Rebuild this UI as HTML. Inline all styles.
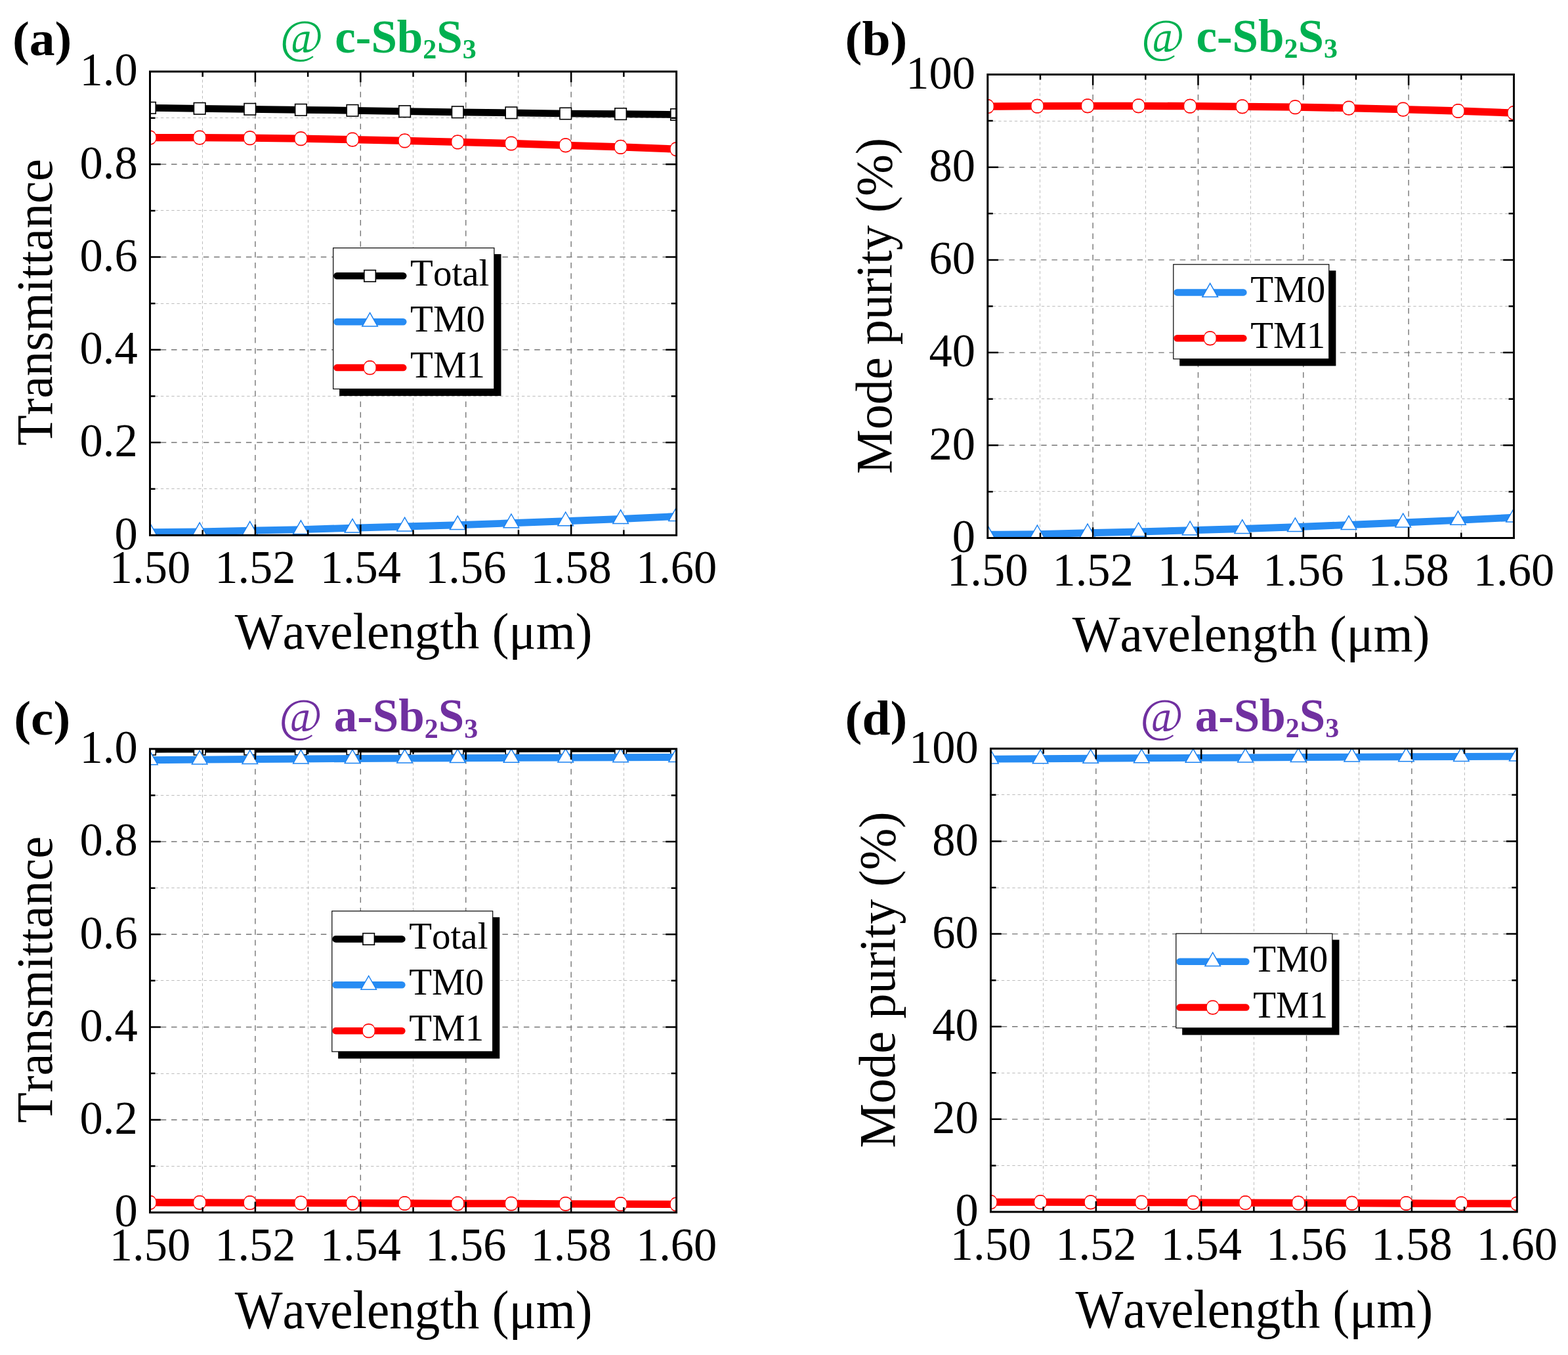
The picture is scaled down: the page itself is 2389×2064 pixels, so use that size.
<!DOCTYPE html><html><head><meta charset="utf-8"><title>Transmittance and mode purity</title>
<style>html,body{margin:0;padding:0;background:#fff;}svg{display:block;}text{font-family:"Liberation Serif","Times New Roman",serif;font-kerning:none;}</style></head><body>
<svg width="2389" height="2064" viewBox="0 0 2389 2064">
<rect width="100%" height="100%" fill="#fff"/>
<defs><g id="mc"><path d="M9.65,0.00 L9.58,1.89 L9.36,3.43 L9.01,4.81 L8.52,6.08 L7.89,7.21 L7.14,8.21 L6.27,9.08 L5.28,9.79 L4.19,10.36 L2.98,10.77 L1.64,11.02 L0.00,11.10 L-1.64,11.02 L-2.98,10.77 L-4.19,10.36 L-5.28,9.79 L-6.27,9.08 L-7.14,8.21 L-7.89,7.21 L-8.52,6.08 L-9.01,4.81 L-9.36,3.43 L-9.58,1.89 L-9.65,0.00 L-9.58,-1.89 L-9.36,-3.43 L-9.01,-4.81 L-8.52,-6.08 L-7.89,-7.21 L-7.14,-8.21 L-6.27,-9.08 L-5.28,-9.79 L-4.19,-10.36 L-2.98,-10.77 L-1.64,-11.02 L-0.00,-11.10 L1.64,-11.02 L2.98,-10.77 L4.19,-10.36 L5.28,-9.79 L6.27,-9.08 L7.14,-8.21 L7.89,-7.21 L8.52,-6.08 L9.01,-4.81 L9.36,-3.43 L9.58,-1.89Z" fill="#FF0000"/><path d="M8.85,0.00 L8.78,1.59 L8.59,2.89 L8.26,4.06 L7.81,5.12 L7.24,6.07 L6.55,6.92 L5.75,7.65 L4.84,8.25 L3.84,8.73 L2.73,9.07 L1.51,9.28 L0.00,9.35 L-1.51,9.28 L-2.73,9.07 L-3.84,8.73 L-4.84,8.25 L-5.75,7.65 L-6.55,6.92 L-7.24,6.07 L-7.81,5.12 L-8.26,4.06 L-8.59,2.89 L-8.78,1.59 L-8.85,0.00 L-8.78,-1.59 L-8.59,-2.89 L-8.26,-4.06 L-7.81,-5.12 L-7.24,-6.07 L-6.55,-6.92 L-5.75,-7.65 L-4.84,-8.25 L-3.84,-8.73 L-2.73,-9.07 L-1.51,-9.28 L-0.00,-9.35 L1.51,-9.28 L2.73,-9.07 L3.84,-8.73 L4.84,-8.25 L5.75,-7.65 L6.55,-6.92 L7.24,-6.07 L7.81,-5.12 L8.26,-4.06 L8.59,-2.89 L8.78,-1.59Z" fill="#fff"/></g></defs>
<g id="panel-a">
<clipPath id="clip-a"><rect x="228.5" y="109" width="802.1" height="706.3"/></clipPath>
<path d="M308.5 815.3V109M228.5 744.5H1030.6M469.5 815.3V109M228.5 603.5H1030.6M629.5 815.3V109M228.5 462.5H1030.6M789.5 815.3V109M228.5 320.5H1030.6M950.5 815.3V109M228.5 179.5H1030.6" stroke="#bcbcbc" stroke-width="1.0" stroke-dasharray="4.3 3.91" fill="none"/>
<path d="M388.92 815.3V109M228.5 674.04H1030.6M549.34 815.3V109M228.5 532.78H1030.6M709.76 815.3V109M228.5 391.52H1030.6M870.18 815.3V109M228.5 250.26H1030.6" stroke="#757575" stroke-width="1.4" stroke-dasharray="8.5 7.77" fill="none"/>
<g clip-path="url(#clip-a)">
<polyline points="228.5,164.3 304.17,165.3 380.8,166.3 458.4,167.3 537,168.3 616.61,169.7 697.26,170.8 778.96,171.8 861.74,173 945.61,173.6 1030.6,174.5" fill="none" stroke="#000" stroke-width="10.7" stroke-linejoin="round"/>
<rect x="219.75" y="155.55" width="17.5" height="17.5" fill="#fff" stroke="#000" stroke-width="1.6"/><rect x="295.42" y="156.55" width="17.5" height="17.5" fill="#fff" stroke="#000" stroke-width="1.6"/><rect x="372.05" y="157.55" width="17.5" height="17.5" fill="#fff" stroke="#000" stroke-width="1.6"/><rect x="449.65" y="158.55" width="17.5" height="17.5" fill="#fff" stroke="#000" stroke-width="1.6"/><rect x="528.25" y="159.55" width="17.5" height="17.5" fill="#fff" stroke="#000" stroke-width="1.6"/><rect x="607.86" y="160.95" width="17.5" height="17.5" fill="#fff" stroke="#000" stroke-width="1.6"/><rect x="688.51" y="162.05" width="17.5" height="17.5" fill="#fff" stroke="#000" stroke-width="1.6"/><rect x="770.21" y="163.05" width="17.5" height="17.5" fill="#fff" stroke="#000" stroke-width="1.6"/><rect x="852.99" y="164.25" width="17.5" height="17.5" fill="#fff" stroke="#000" stroke-width="1.6"/><rect x="936.86" y="164.85" width="17.5" height="17.5" fill="#fff" stroke="#000" stroke-width="1.6"/><rect x="1021.85" y="165.75" width="17.5" height="17.5" fill="#fff" stroke="#000" stroke-width="1.6"/>
<polyline points="228.5,810.6 304.17,809.9 380.8,808.1 458.4,806.6 537,804.2 616.61,802 697.26,799.7 778.96,796.8 861.74,793.8 945.61,790.5 1030.6,786.5" fill="none" stroke="#278CF3" stroke-width="10.9" stroke-linejoin="round"/>
<polygon points="228.5,796.8 240.25,817.5 216.75,817.5" fill="#fff" stroke="#1B82F2" stroke-width="1.5" stroke-linejoin="miter"/><polygon points="304.17,796.1 315.92,816.8 292.42,816.8" fill="#fff" stroke="#1B82F2" stroke-width="1.5" stroke-linejoin="miter"/><polygon points="380.8,794.3 392.55,815 369.05,815" fill="#fff" stroke="#1B82F2" stroke-width="1.5" stroke-linejoin="miter"/><polygon points="458.4,792.8 470.15,813.5 446.65,813.5" fill="#fff" stroke="#1B82F2" stroke-width="1.5" stroke-linejoin="miter"/><polygon points="537,790.4 548.75,811.1 525.25,811.1" fill="#fff" stroke="#1B82F2" stroke-width="1.5" stroke-linejoin="miter"/><polygon points="616.61,788.2 628.36,808.9 604.86,808.9" fill="#fff" stroke="#1B82F2" stroke-width="1.5" stroke-linejoin="miter"/><polygon points="697.26,785.9 709.01,806.6 685.51,806.6" fill="#fff" stroke="#1B82F2" stroke-width="1.5" stroke-linejoin="miter"/><polygon points="778.96,783 790.71,803.7 767.21,803.7" fill="#fff" stroke="#1B82F2" stroke-width="1.5" stroke-linejoin="miter"/><polygon points="861.74,780 873.49,800.7 849.99,800.7" fill="#fff" stroke="#1B82F2" stroke-width="1.5" stroke-linejoin="miter"/><polygon points="945.61,776.7 957.36,797.4 933.86,797.4" fill="#fff" stroke="#1B82F2" stroke-width="1.5" stroke-linejoin="miter"/><polygon points="1030.6,772.7 1042.35,793.4 1018.85,793.4" fill="#fff" stroke="#1B82F2" stroke-width="1.5" stroke-linejoin="miter"/>
<polyline points="228.5,209.6 304.17,209.6 380.8,210.2 458.4,211.2 537,212.6 616.61,214.4 697.26,216.4 778.96,218.5 861.74,221.3 945.61,223.9 1030.6,227.2" fill="none" stroke="#FF0000" stroke-width="11.3" stroke-linejoin="round"/>
<use href="#mc" x="228.5" y="209.6"/><use href="#mc" x="304.17" y="209.6"/><use href="#mc" x="380.8" y="210.2"/><use href="#mc" x="458.4" y="211.2"/><use href="#mc" x="537" y="212.6"/><use href="#mc" x="616.61" y="214.4"/><use href="#mc" x="697.26" y="216.4"/><use href="#mc" x="778.96" y="218.5"/><use href="#mc" x="861.74" y="221.3"/><use href="#mc" x="945.61" y="223.9"/><use href="#mc" x="1030.6" y="227.2"/>
</g>
<path d="M308.71 815.3v-8M308.71 109v8M228.5 744.67h8M1030.6 744.67h-8M388.92 815.3v-16.3M388.92 109v16.3M228.5 674.04h16.3M1030.6 674.04h-16.3M469.13 815.3v-8M469.13 109v8M228.5 603.41h8M1030.6 603.41h-8M549.34 815.3v-16.3M549.34 109v16.3M228.5 532.78h16.3M1030.6 532.78h-16.3M629.55 815.3v-8M629.55 109v8M228.5 462.15h8M1030.6 462.15h-8M709.76 815.3v-16.3M709.76 109v16.3M228.5 391.52h16.3M1030.6 391.52h-16.3M789.97 815.3v-8M789.97 109v8M228.5 320.89h8M1030.6 320.89h-8M870.18 815.3v-16.3M870.18 109v16.3M228.5 250.26h16.3M1030.6 250.26h-16.3M950.39 815.3v-8M950.39 109v8M228.5 179.63h8M1030.6 179.63h-8" stroke="#000" stroke-width="2.5" fill="none"/>
<rect x="228.5" y="109" width="802.1" height="706.3" fill="none" stroke="#000" stroke-width="3.0"/>
<text transform="translate(209.7,836.6) scale(1,1.024)" font-size="70.5" text-anchor="end">0</text>
<text transform="translate(209.7,695.34) scale(1,1.024)" font-size="70.5" text-anchor="end">0.2</text>
<text transform="translate(209.7,554.08) scale(1,1.024)" font-size="70.5" text-anchor="end">0.4</text>
<text transform="translate(209.7,412.82) scale(1,1.024)" font-size="70.5" text-anchor="end">0.6</text>
<text transform="translate(209.7,271.56) scale(1,1.024)" font-size="70.5" text-anchor="end">0.8</text>
<text transform="translate(209.7,130.3) scale(1,1.024)" font-size="70.5" text-anchor="end">1.0</text>
<text transform="translate(228.5,887.9) scale(1,1.024)" font-size="70.5" text-anchor="middle">1.50</text>
<text transform="translate(388.92,887.9) scale(1,1.024)" font-size="70.5" text-anchor="middle">1.52</text>
<text transform="translate(549.34,887.9) scale(1,1.024)" font-size="70.5" text-anchor="middle">1.54</text>
<text transform="translate(709.76,887.9) scale(1,1.024)" font-size="70.5" text-anchor="middle">1.56</text>
<text transform="translate(870.18,887.9) scale(1,1.024)" font-size="70.5" text-anchor="middle">1.58</text>
<text transform="translate(1030.6,887.9) scale(1,1.024)" font-size="70.5" text-anchor="middle">1.60</text>
<text id="yt-a" transform="translate(79.4,460.55) rotate(-90) scale(0.973,1)" font-size="78.5" text-anchor="middle">Transmittance</text>
<text id="xt-a" transform="translate(630.05,987.6) scale(0.983,1)" font-size="78.5" text-anchor="middle">Wavelength (μm)</text>
<rect x="517.1" y="387.1" width="246.4" height="216" fill="#000"/>
<rect x="507.7" y="377.7" width="245.2" height="214.8" fill="#fff" stroke="#000" stroke-width="1.2"/>
<line x1="513.4" y1="420.3" x2="614.3" y2="420.3" stroke="#000" stroke-width="10.5" stroke-linecap="round"/>
<rect x="554.85" y="411.55" width="17.5" height="17.5" fill="#fff" stroke="#000" stroke-width="1.6"/>
<text x="625.1" y="435.3" font-size="57.0">Total</text>
<line x1="513.4" y1="490.2" x2="614.3" y2="490.2" stroke="#278CF3" stroke-width="10.5" stroke-linecap="round"/>
<polygon points="563.6,476.4 575.35,497.1 551.85,497.1" fill="#fff" stroke="#1B82F2" stroke-width="1.5" stroke-linejoin="miter"/>
<text x="625.1" y="505.2" font-size="57.0">TM0</text>
<line x1="513.4" y1="560.1" x2="614.3" y2="560.1" stroke="#FF0000" stroke-width="10.5" stroke-linecap="round"/>
<use href="#mc" x="563.6" y="560.1"/>
<text x="625.1" y="575.1" font-size="57.0">TM1</text>
<text transform="translate(18.89,66.45) scale(1,0.955)" y="18.66" font-size="77.6" font-weight="bold">(a)</text>
<text x="427.09" y="79.5" font-size="71.0" font-weight="bold" fill="#00B050"><tspan font-weight="normal">@</tspan> c-Sb<tspan font-size="42.0" dy="9.2">2</tspan><tspan dy="-9.2">S</tspan><tspan font-size="42.0" dy="9.2">3</tspan></text>
</g>
<g id="panel-b">
<clipPath id="clip-b"><rect x="1504.8" y="113.5" width="801.7" height="706"/></clipPath>
<path d="M1584.5 819.5V113.5M1504.8 748.5H2306.5M1745.5 819.5V113.5M1504.8 607.5H2306.5M1905.5 819.5V113.5M1504.8 466.5H2306.5M2065.5 819.5V113.5M1504.8 325.5H2306.5M2226.5 819.5V113.5M1504.8 184.5H2306.5" stroke="#bcbcbc" stroke-width="1.0" stroke-dasharray="4.3 3.91" fill="none"/>
<path d="M1665.14 819.5V113.5M1504.8 678.3H2306.5M1825.48 819.5V113.5M1504.8 537.1H2306.5M1985.82 819.5V113.5M1504.8 395.9H2306.5M2146.16 819.5V113.5M1504.8 254.7H2306.5" stroke="#757575" stroke-width="1.4" stroke-dasharray="8.5 7.77" fill="none"/>
<g clip-path="url(#clip-b)">
<polyline points="1504.8,814.2 1580.43,813.8 1657.02,811.8 1734.59,810 1813.15,807.8 1892.72,805.5 1973.33,802.7 2054.99,799.5 2137.72,796 2221.55,792.4 2306.5,788.2" fill="none" stroke="#278CF3" stroke-width="10.9" stroke-linejoin="round"/>
<polygon points="1504.8,800.4 1516.55,821.1 1493.05,821.1" fill="#fff" stroke="#1B82F2" stroke-width="1.5" stroke-linejoin="miter"/><polygon points="1580.43,800 1592.18,820.7 1568.68,820.7" fill="#fff" stroke="#1B82F2" stroke-width="1.5" stroke-linejoin="miter"/><polygon points="1657.02,798 1668.77,818.7 1645.27,818.7" fill="#fff" stroke="#1B82F2" stroke-width="1.5" stroke-linejoin="miter"/><polygon points="1734.59,796.2 1746.34,816.9 1722.84,816.9" fill="#fff" stroke="#1B82F2" stroke-width="1.5" stroke-linejoin="miter"/><polygon points="1813.15,794 1824.9,814.7 1801.4,814.7" fill="#fff" stroke="#1B82F2" stroke-width="1.5" stroke-linejoin="miter"/><polygon points="1892.72,791.7 1904.47,812.4 1880.97,812.4" fill="#fff" stroke="#1B82F2" stroke-width="1.5" stroke-linejoin="miter"/><polygon points="1973.33,788.9 1985.08,809.6 1961.58,809.6" fill="#fff" stroke="#1B82F2" stroke-width="1.5" stroke-linejoin="miter"/><polygon points="2054.99,785.7 2066.74,806.4 2043.24,806.4" fill="#fff" stroke="#1B82F2" stroke-width="1.5" stroke-linejoin="miter"/><polygon points="2137.72,782.2 2149.47,802.9 2125.97,802.9" fill="#fff" stroke="#1B82F2" stroke-width="1.5" stroke-linejoin="miter"/><polygon points="2221.55,778.6 2233.3,799.3 2209.8,799.3" fill="#fff" stroke="#1B82F2" stroke-width="1.5" stroke-linejoin="miter"/><polygon points="2306.5,774.4 2318.25,795.1 2294.75,795.1" fill="#fff" stroke="#1B82F2" stroke-width="1.5" stroke-linejoin="miter"/>
<polyline points="1504.8,162.1 1580.43,161.7 1657.02,161.3 1734.59,161.3 1813.15,161.7 1892.72,162.3 1973.33,163.2 2054.99,164.6 2137.72,166.6 2221.55,169 2306.5,172.1" fill="none" stroke="#FF0000" stroke-width="11.3" stroke-linejoin="round"/>
<use href="#mc" x="1504.8" y="162.1"/><use href="#mc" x="1580.43" y="161.7"/><use href="#mc" x="1657.02" y="161.3"/><use href="#mc" x="1734.59" y="161.3"/><use href="#mc" x="1813.15" y="161.7"/><use href="#mc" x="1892.72" y="162.3"/><use href="#mc" x="1973.33" y="163.2"/><use href="#mc" x="2054.99" y="164.6"/><use href="#mc" x="2137.72" y="166.6"/><use href="#mc" x="2221.55" y="169"/><use href="#mc" x="2306.5" y="172.1"/>
</g>
<path d="M1584.97 819.5v-8M1584.97 113.5v8M1504.8 748.9h8M2306.5 748.9h-8M1665.14 819.5v-16.3M1665.14 113.5v16.3M1504.8 678.3h16.3M2306.5 678.3h-16.3M1745.31 819.5v-8M1745.31 113.5v8M1504.8 607.7h8M2306.5 607.7h-8M1825.48 819.5v-16.3M1825.48 113.5v16.3M1504.8 537.1h16.3M2306.5 537.1h-16.3M1905.65 819.5v-8M1905.65 113.5v8M1504.8 466.5h8M2306.5 466.5h-8M1985.82 819.5v-16.3M1985.82 113.5v16.3M1504.8 395.9h16.3M2306.5 395.9h-16.3M2065.99 819.5v-8M2065.99 113.5v8M1504.8 325.3h8M2306.5 325.3h-8M2146.16 819.5v-16.3M2146.16 113.5v16.3M1504.8 254.7h16.3M2306.5 254.7h-16.3M2226.33 819.5v-8M2226.33 113.5v8M1504.8 184.1h8M2306.5 184.1h-8" stroke="#000" stroke-width="2.5" fill="none"/>
<rect x="1504.8" y="113.5" width="801.7" height="706" fill="none" stroke="#000" stroke-width="3.0"/>
<text transform="translate(1486,840.8) scale(1,1.024)" font-size="70.5" text-anchor="end">0</text>
<text transform="translate(1486,699.6) scale(1,1.024)" font-size="70.5" text-anchor="end">20</text>
<text transform="translate(1486,558.4) scale(1,1.024)" font-size="70.5" text-anchor="end">40</text>
<text transform="translate(1486,417.2) scale(1,1.024)" font-size="70.5" text-anchor="end">60</text>
<text transform="translate(1486,276) scale(1,1.024)" font-size="70.5" text-anchor="end">80</text>
<text transform="translate(1486,134.8) scale(1,1.024)" font-size="70.5" text-anchor="end">100</text>
<text transform="translate(1504.8,892.1) scale(1,1.024)" font-size="70.5" text-anchor="middle">1.50</text>
<text transform="translate(1665.14,892.1) scale(1,1.024)" font-size="70.5" text-anchor="middle">1.52</text>
<text transform="translate(1825.48,892.1) scale(1,1.024)" font-size="70.5" text-anchor="middle">1.54</text>
<text transform="translate(1985.82,892.1) scale(1,1.024)" font-size="70.5" text-anchor="middle">1.56</text>
<text transform="translate(2146.16,892.1) scale(1,1.024)" font-size="70.5" text-anchor="middle">1.58</text>
<text transform="translate(2306.5,892.1) scale(1,1.024)" font-size="70.5" text-anchor="middle">1.60</text>
<text id="yt-b" transform="translate(1357.5,465.9) rotate(-90) scale(0.971,1)" font-size="78.5" text-anchor="middle">Mode purity (%)</text>
<text id="xt-b" transform="translate(1906.15,991.8) scale(0.983,1)" font-size="78.5" text-anchor="middle">Wavelength (μm)</text>
<rect x="1797.2" y="412.2" width="238.2" height="145.2" fill="#000"/>
<rect x="1787.8" y="402.8" width="237" height="144" fill="#fff" stroke="#000" stroke-width="1.2"/>
<line x1="1793.5" y1="445.4" x2="1894.4" y2="445.4" stroke="#278CF3" stroke-width="10.5" stroke-linecap="round"/>
<polygon points="1843.7,431.6 1855.45,452.3 1831.95,452.3" fill="#fff" stroke="#1B82F2" stroke-width="1.5" stroke-linejoin="miter"/>
<text x="1905.2" y="460.4" font-size="57.0">TM0</text>
<line x1="1793.5" y1="515.3" x2="1894.4" y2="515.3" stroke="#FF0000" stroke-width="10.5" stroke-linecap="round"/>
<use href="#mc" x="1843.7" y="515.3"/>
<text x="1905.2" y="530.3" font-size="57.0">TM1</text>
<text transform="translate(1287.59,66.55) scale(1,0.955)" y="18.66" font-size="77.6" font-weight="bold">(b)</text>
<text x="1739.29" y="79.1" font-size="71.0" font-weight="bold" fill="#00B050"><tspan font-weight="normal">@</tspan> c-Sb<tspan font-size="42.0" dy="9.2">2</tspan><tspan dy="-9.2">S</tspan><tspan font-size="42.0" dy="9.2">3</tspan></text>
</g>
<g id="panel-c">
<clipPath id="clip-c"><rect x="228.5" y="1140.8" width="802.1" height="706.1"/></clipPath>
<path d="M308.5 1846.9V1140.8M228.5 1776.5H1030.6M469.5 1846.9V1140.8M228.5 1635.5H1030.6M629.5 1846.9V1140.8M228.5 1493.5H1030.6M789.5 1846.9V1140.8M228.5 1352.5H1030.6M950.5 1846.9V1140.8M228.5 1211.5H1030.6" stroke="#bcbcbc" stroke-width="1.0" stroke-dasharray="4.3 3.91" fill="none"/>
<path d="M388.92 1846.9V1140.8M228.5 1705.68H1030.6M549.34 1846.9V1140.8M228.5 1564.46H1030.6M709.76 1846.9V1140.8M228.5 1423.24H1030.6M870.18 1846.9V1140.8M228.5 1282.02H1030.6" stroke="#757575" stroke-width="1.4" stroke-dasharray="8.5 7.77" fill="none"/>
<g clip-path="url(#clip-c)">
<polyline points="228.5,1141.3 304.17,1141.2 380.8,1141.1 458.4,1141 537,1140.9 616.61,1140.8 697.26,1140.7 778.96,1140.6 861.74,1140.5 945.61,1140.4 1030.6,1140.3" fill="none" stroke="#000" stroke-width="10.7" stroke-linejoin="round"/>
<rect x="219.75" y="1132.55" width="17.5" height="17.5" fill="#fff" stroke="#000" stroke-width="1.6"/><rect x="295.42" y="1132.45" width="17.5" height="17.5" fill="#fff" stroke="#000" stroke-width="1.6"/><rect x="372.05" y="1132.35" width="17.5" height="17.5" fill="#fff" stroke="#000" stroke-width="1.6"/><rect x="449.65" y="1132.25" width="17.5" height="17.5" fill="#fff" stroke="#000" stroke-width="1.6"/><rect x="528.25" y="1132.15" width="17.5" height="17.5" fill="#fff" stroke="#000" stroke-width="1.6"/><rect x="607.86" y="1132.05" width="17.5" height="17.5" fill="#fff" stroke="#000" stroke-width="1.6"/><rect x="688.51" y="1131.95" width="17.5" height="17.5" fill="#fff" stroke="#000" stroke-width="1.6"/><rect x="770.21" y="1131.85" width="17.5" height="17.5" fill="#fff" stroke="#000" stroke-width="1.6"/><rect x="852.99" y="1131.75" width="17.5" height="17.5" fill="#fff" stroke="#000" stroke-width="1.6"/><rect x="936.86" y="1131.65" width="17.5" height="17.5" fill="#fff" stroke="#000" stroke-width="1.6"/><rect x="1021.85" y="1131.55" width="17.5" height="17.5" fill="#fff" stroke="#000" stroke-width="1.6"/>
<polyline points="228.5,1157.8 304.17,1157.1 380.8,1156.5 458.4,1156 537,1155.5 616.61,1155.1 697.26,1154.7 778.96,1154.4 861.74,1154.1 945.61,1153.8 1030.6,1153.5" fill="none" stroke="#278CF3" stroke-width="10.9" stroke-linejoin="round"/>
<polygon points="228.5,1144 240.25,1164.7 216.75,1164.7" fill="#fff" stroke="#1B82F2" stroke-width="1.5" stroke-linejoin="miter"/><polygon points="304.17,1143.3 315.92,1164 292.42,1164" fill="#fff" stroke="#1B82F2" stroke-width="1.5" stroke-linejoin="miter"/><polygon points="380.8,1142.7 392.55,1163.4 369.05,1163.4" fill="#fff" stroke="#1B82F2" stroke-width="1.5" stroke-linejoin="miter"/><polygon points="458.4,1142.2 470.15,1162.9 446.65,1162.9" fill="#fff" stroke="#1B82F2" stroke-width="1.5" stroke-linejoin="miter"/><polygon points="537,1141.7 548.75,1162.4 525.25,1162.4" fill="#fff" stroke="#1B82F2" stroke-width="1.5" stroke-linejoin="miter"/><polygon points="616.61,1141.3 628.36,1162 604.86,1162" fill="#fff" stroke="#1B82F2" stroke-width="1.5" stroke-linejoin="miter"/><polygon points="697.26,1140.9 709.01,1161.6 685.51,1161.6" fill="#fff" stroke="#1B82F2" stroke-width="1.5" stroke-linejoin="miter"/><polygon points="778.96,1140.6 790.71,1161.3 767.21,1161.3" fill="#fff" stroke="#1B82F2" stroke-width="1.5" stroke-linejoin="miter"/><polygon points="861.74,1140.3 873.49,1161 849.99,1161" fill="#fff" stroke="#1B82F2" stroke-width="1.5" stroke-linejoin="miter"/><polygon points="945.61,1140 957.36,1160.7 933.86,1160.7" fill="#fff" stroke="#1B82F2" stroke-width="1.5" stroke-linejoin="miter"/><polygon points="1030.6,1139.7 1042.35,1160.4 1018.85,1160.4" fill="#fff" stroke="#1B82F2" stroke-width="1.5" stroke-linejoin="miter"/>
<polyline points="228.5,1831.7 304.17,1831.8 380.8,1832.1 458.4,1832.4 537,1832.7 616.61,1833 697.26,1833.3 778.96,1833.5 861.74,1833.8 945.61,1834.1 1030.6,1834.4" fill="none" stroke="#FF0000" stroke-width="11.3" stroke-linejoin="round"/>
<use href="#mc" x="228.5" y="1831.7"/><use href="#mc" x="304.17" y="1831.8"/><use href="#mc" x="380.8" y="1832.1"/><use href="#mc" x="458.4" y="1832.4"/><use href="#mc" x="537" y="1832.7"/><use href="#mc" x="616.61" y="1833"/><use href="#mc" x="697.26" y="1833.3"/><use href="#mc" x="778.96" y="1833.5"/><use href="#mc" x="861.74" y="1833.8"/><use href="#mc" x="945.61" y="1834.1"/><use href="#mc" x="1030.6" y="1834.4"/>
</g>
<path d="M308.71 1846.9v-8M308.71 1140.8v8M228.5 1776.29h8M1030.6 1776.29h-8M388.92 1846.9v-16.3M388.92 1140.8v16.3M228.5 1705.68h16.3M1030.6 1705.68h-16.3M469.13 1846.9v-8M469.13 1140.8v8M228.5 1635.07h8M1030.6 1635.07h-8M549.34 1846.9v-16.3M549.34 1140.8v16.3M228.5 1564.46h16.3M1030.6 1564.46h-16.3M629.55 1846.9v-8M629.55 1140.8v8M228.5 1493.85h8M1030.6 1493.85h-8M709.76 1846.9v-16.3M709.76 1140.8v16.3M228.5 1423.24h16.3M1030.6 1423.24h-16.3M789.97 1846.9v-8M789.97 1140.8v8M228.5 1352.63h8M1030.6 1352.63h-8M870.18 1846.9v-16.3M870.18 1140.8v16.3M228.5 1282.02h16.3M1030.6 1282.02h-16.3M950.39 1846.9v-8M950.39 1140.8v8M228.5 1211.41h8M1030.6 1211.41h-8" stroke="#000" stroke-width="2.5" fill="none"/>
<rect x="228.5" y="1140.8" width="802.1" height="706.1" fill="none" stroke="#000" stroke-width="3.0"/>
<text transform="translate(209.7,1868.2) scale(1,1.024)" font-size="70.5" text-anchor="end">0</text>
<text transform="translate(209.7,1726.98) scale(1,1.024)" font-size="70.5" text-anchor="end">0.2</text>
<text transform="translate(209.7,1585.76) scale(1,1.024)" font-size="70.5" text-anchor="end">0.4</text>
<text transform="translate(209.7,1444.54) scale(1,1.024)" font-size="70.5" text-anchor="end">0.6</text>
<text transform="translate(209.7,1303.32) scale(1,1.024)" font-size="70.5" text-anchor="end">0.8</text>
<text transform="translate(209.7,1162.1) scale(1,1.024)" font-size="70.5" text-anchor="end">1.0</text>
<text transform="translate(228.5,1919.5) scale(1,1.024)" font-size="70.5" text-anchor="middle">1.50</text>
<text transform="translate(388.92,1919.5) scale(1,1.024)" font-size="70.5" text-anchor="middle">1.52</text>
<text transform="translate(549.34,1919.5) scale(1,1.024)" font-size="70.5" text-anchor="middle">1.54</text>
<text transform="translate(709.76,1919.5) scale(1,1.024)" font-size="70.5" text-anchor="middle">1.56</text>
<text transform="translate(870.18,1919.5) scale(1,1.024)" font-size="70.5" text-anchor="middle">1.58</text>
<text transform="translate(1030.6,1919.5) scale(1,1.024)" font-size="70.5" text-anchor="middle">1.60</text>
<text id="yt-c" transform="translate(79.4,1492.25) rotate(-90) scale(0.973,1)" font-size="78.5" text-anchor="middle">Transmittance</text>
<text id="xt-c" transform="translate(630.05,2022.5) scale(0.983,1.06)" font-size="78.5" text-anchor="middle">Wavelength (μm)</text>
<rect x="515.2" y="1397.2" width="246.1" height="215.3" fill="#000"/>
<rect x="505.8" y="1387.8" width="244.9" height="214.1" fill="#fff" stroke="#000" stroke-width="1.2"/>
<line x1="511.5" y1="1430.4" x2="612.4" y2="1430.4" stroke="#000" stroke-width="10.5" stroke-linecap="round"/>
<rect x="552.95" y="1421.65" width="17.5" height="17.5" fill="#fff" stroke="#000" stroke-width="1.6"/>
<text x="623.2" y="1445.4" font-size="57.0">Total</text>
<line x1="511.5" y1="1500.3" x2="612.4" y2="1500.3" stroke="#278CF3" stroke-width="10.5" stroke-linecap="round"/>
<polygon points="561.7,1486.5 573.45,1507.2 549.95,1507.2" fill="#fff" stroke="#1B82F2" stroke-width="1.5" stroke-linejoin="miter"/>
<text x="623.2" y="1515.3" font-size="57.0">TM0</text>
<line x1="511.5" y1="1570.2" x2="612.4" y2="1570.2" stroke="#FF0000" stroke-width="10.5" stroke-linecap="round"/>
<use href="#mc" x="561.7" y="1570.2"/>
<text x="623.2" y="1585.2" font-size="57.0">TM1</text>
<text transform="translate(21.19,1101.4) scale(1,0.955)" y="18.66" font-size="77.6" font-weight="bold">(c)</text>
<text x="425.59" y="1114.4" font-size="71.0" font-weight="bold" fill="#7030A0"><tspan font-weight="normal">@</tspan> a-Sb<tspan font-size="42.0" dy="9.2">2</tspan><tspan dy="-9.2">S</tspan><tspan font-size="42.0" dy="9.2">3</tspan></text>
</g>
<g id="panel-d">
<clipPath id="clip-d"><rect x="1509.5" y="1140.3" width="801.8" height="705.7"/></clipPath>
<path d="M1589.5 1846V1140.3M1509.5 1775.5H2311.3M1750.5 1846V1140.3M1509.5 1634.5H2311.3M1910.5 1846V1140.3M1509.5 1493.5H2311.3M2070.5 1846V1140.3M1509.5 1352.5H2311.3M2231.5 1846V1140.3M1509.5 1210.5H2311.3" stroke="#bcbcbc" stroke-width="1.0" stroke-dasharray="4.3 3.91" fill="none"/>
<path d="M1669.86 1846V1140.3M1509.5 1704.86H2311.3M1830.22 1846V1140.3M1509.5 1563.72H2311.3M1990.58 1846V1140.3M1509.5 1422.58H2311.3M2150.94 1846V1140.3M1509.5 1281.44H2311.3" stroke="#757575" stroke-width="1.4" stroke-dasharray="8.5 7.77" fill="none"/>
<g clip-path="url(#clip-d)">
<polyline points="1509.5,1156.2 1585.14,1155.8 1661.74,1155.3 1739.32,1154.8 1817.88,1154.4 1897.47,1154 1978.08,1153.5 2059.75,1153.1 2142.5,1152.8 2226.34,1152.5 2311.3,1152.2" fill="none" stroke="#278CF3" stroke-width="10.9" stroke-linejoin="round"/>
<polygon points="1509.5,1142.4 1521.25,1163.1 1497.75,1163.1" fill="#fff" stroke="#1B82F2" stroke-width="1.5" stroke-linejoin="miter"/><polygon points="1585.14,1142 1596.89,1162.7 1573.39,1162.7" fill="#fff" stroke="#1B82F2" stroke-width="1.5" stroke-linejoin="miter"/><polygon points="1661.74,1141.5 1673.49,1162.2 1649.99,1162.2" fill="#fff" stroke="#1B82F2" stroke-width="1.5" stroke-linejoin="miter"/><polygon points="1739.32,1141 1751.07,1161.7 1727.57,1161.7" fill="#fff" stroke="#1B82F2" stroke-width="1.5" stroke-linejoin="miter"/><polygon points="1817.88,1140.6 1829.63,1161.3 1806.13,1161.3" fill="#fff" stroke="#1B82F2" stroke-width="1.5" stroke-linejoin="miter"/><polygon points="1897.47,1140.2 1909.22,1160.9 1885.72,1160.9" fill="#fff" stroke="#1B82F2" stroke-width="1.5" stroke-linejoin="miter"/><polygon points="1978.08,1139.7 1989.83,1160.4 1966.33,1160.4" fill="#fff" stroke="#1B82F2" stroke-width="1.5" stroke-linejoin="miter"/><polygon points="2059.75,1139.3 2071.5,1160 2048,1160" fill="#fff" stroke="#1B82F2" stroke-width="1.5" stroke-linejoin="miter"/><polygon points="2142.5,1139 2154.25,1159.7 2130.75,1159.7" fill="#fff" stroke="#1B82F2" stroke-width="1.5" stroke-linejoin="miter"/><polygon points="2226.34,1138.7 2238.09,1159.4 2214.59,1159.4" fill="#fff" stroke="#1B82F2" stroke-width="1.5" stroke-linejoin="miter"/><polygon points="2311.3,1138.4 2323.05,1159.1 2299.55,1159.1" fill="#fff" stroke="#1B82F2" stroke-width="1.5" stroke-linejoin="miter"/>
<polyline points="1509.5,1831.1 1585.14,1831.1 1661.74,1831.3 1739.32,1831.6 1817.88,1831.8 1897.47,1832.1 1978.08,1832.4 2059.75,1832.7 2142.5,1833 2226.34,1833.3 2311.3,1833.5" fill="none" stroke="#FF0000" stroke-width="11.3" stroke-linejoin="round"/>
<use href="#mc" x="1509.5" y="1831.1"/><use href="#mc" x="1585.14" y="1831.1"/><use href="#mc" x="1661.74" y="1831.3"/><use href="#mc" x="1739.32" y="1831.6"/><use href="#mc" x="1817.88" y="1831.8"/><use href="#mc" x="1897.47" y="1832.1"/><use href="#mc" x="1978.08" y="1832.4"/><use href="#mc" x="2059.75" y="1832.7"/><use href="#mc" x="2142.5" y="1833"/><use href="#mc" x="2226.34" y="1833.3"/><use href="#mc" x="2311.3" y="1833.5"/>
</g>
<path d="M1589.68 1846v-8M1589.68 1140.3v8M1509.5 1775.43h8M2311.3 1775.43h-8M1669.86 1846v-16.3M1669.86 1140.3v16.3M1509.5 1704.86h16.3M2311.3 1704.86h-16.3M1750.04 1846v-8M1750.04 1140.3v8M1509.5 1634.29h8M2311.3 1634.29h-8M1830.22 1846v-16.3M1830.22 1140.3v16.3M1509.5 1563.72h16.3M2311.3 1563.72h-16.3M1910.4 1846v-8M1910.4 1140.3v8M1509.5 1493.15h8M2311.3 1493.15h-8M1990.58 1846v-16.3M1990.58 1140.3v16.3M1509.5 1422.58h16.3M2311.3 1422.58h-16.3M2070.76 1846v-8M2070.76 1140.3v8M1509.5 1352.01h8M2311.3 1352.01h-8M2150.94 1846v-16.3M2150.94 1140.3v16.3M1509.5 1281.44h16.3M2311.3 1281.44h-16.3M2231.12 1846v-8M2231.12 1140.3v8M1509.5 1210.87h8M2311.3 1210.87h-8" stroke="#000" stroke-width="2.5" fill="none"/>
<rect x="1509.5" y="1140.3" width="801.8" height="705.7" fill="none" stroke="#000" stroke-width="3.0"/>
<text transform="translate(1490.7,1867.3) scale(1,1.024)" font-size="70.5" text-anchor="end">0</text>
<text transform="translate(1490.7,1726.16) scale(1,1.024)" font-size="70.5" text-anchor="end">20</text>
<text transform="translate(1490.7,1585.02) scale(1,1.024)" font-size="70.5" text-anchor="end">40</text>
<text transform="translate(1490.7,1443.88) scale(1,1.024)" font-size="70.5" text-anchor="end">60</text>
<text transform="translate(1490.7,1302.74) scale(1,1.024)" font-size="70.5" text-anchor="end">80</text>
<text transform="translate(1490.7,1161.6) scale(1,1.024)" font-size="70.5" text-anchor="end">100</text>
<text transform="translate(1509.5,1918.6) scale(1,1.024)" font-size="70.5" text-anchor="middle">1.50</text>
<text transform="translate(1669.86,1918.6) scale(1,1.024)" font-size="70.5" text-anchor="middle">1.52</text>
<text transform="translate(1830.22,1918.6) scale(1,1.024)" font-size="70.5" text-anchor="middle">1.54</text>
<text transform="translate(1990.58,1918.6) scale(1,1.024)" font-size="70.5" text-anchor="middle">1.56</text>
<text transform="translate(2150.94,1918.6) scale(1,1.024)" font-size="70.5" text-anchor="middle">1.58</text>
<text transform="translate(2311.3,1918.6) scale(1,1.024)" font-size="70.5" text-anchor="middle">1.60</text>
<text id="yt-d" transform="translate(1363.1,1492.55) rotate(-90) scale(0.971,1)" font-size="78.5" text-anchor="middle">Mode purity (%)</text>
<text id="xt-d" transform="translate(1910.9,2021.6) scale(0.983,1.06)" font-size="78.5" text-anchor="middle">Wavelength (μm)</text>
<rect x="1801.2" y="1431.5" width="239.3" height="145" fill="#000"/>
<rect x="1791.8" y="1422.1" width="238.1" height="143.8" fill="#fff" stroke="#000" stroke-width="1.2"/>
<line x1="1797.5" y1="1464.7" x2="1898.4" y2="1464.7" stroke="#278CF3" stroke-width="10.5" stroke-linecap="round"/>
<polygon points="1847.7,1450.9 1859.45,1471.6 1835.95,1471.6" fill="#fff" stroke="#1B82F2" stroke-width="1.5" stroke-linejoin="miter"/>
<text x="1909.2" y="1479.7" font-size="57.0">TM0</text>
<line x1="1797.5" y1="1534.6" x2="1898.4" y2="1534.6" stroke="#FF0000" stroke-width="10.5" stroke-linecap="round"/>
<use href="#mc" x="1847.7" y="1534.6"/>
<text x="1909.2" y="1549.6" font-size="57.0">TM1</text>
<text transform="translate(1287.59,1101.4) scale(1,0.955)" y="18.66" font-size="77.6" font-weight="bold">(d)</text>
<text x="1737.59" y="1114.1" font-size="71.0" font-weight="bold" fill="#7030A0"><tspan font-weight="normal">@</tspan> a-Sb<tspan font-size="42.0" dy="9.2">2</tspan><tspan dy="-9.2">S</tspan><tspan font-size="42.0" dy="9.2">3</tspan></text>
</g>
</svg></body></html>
